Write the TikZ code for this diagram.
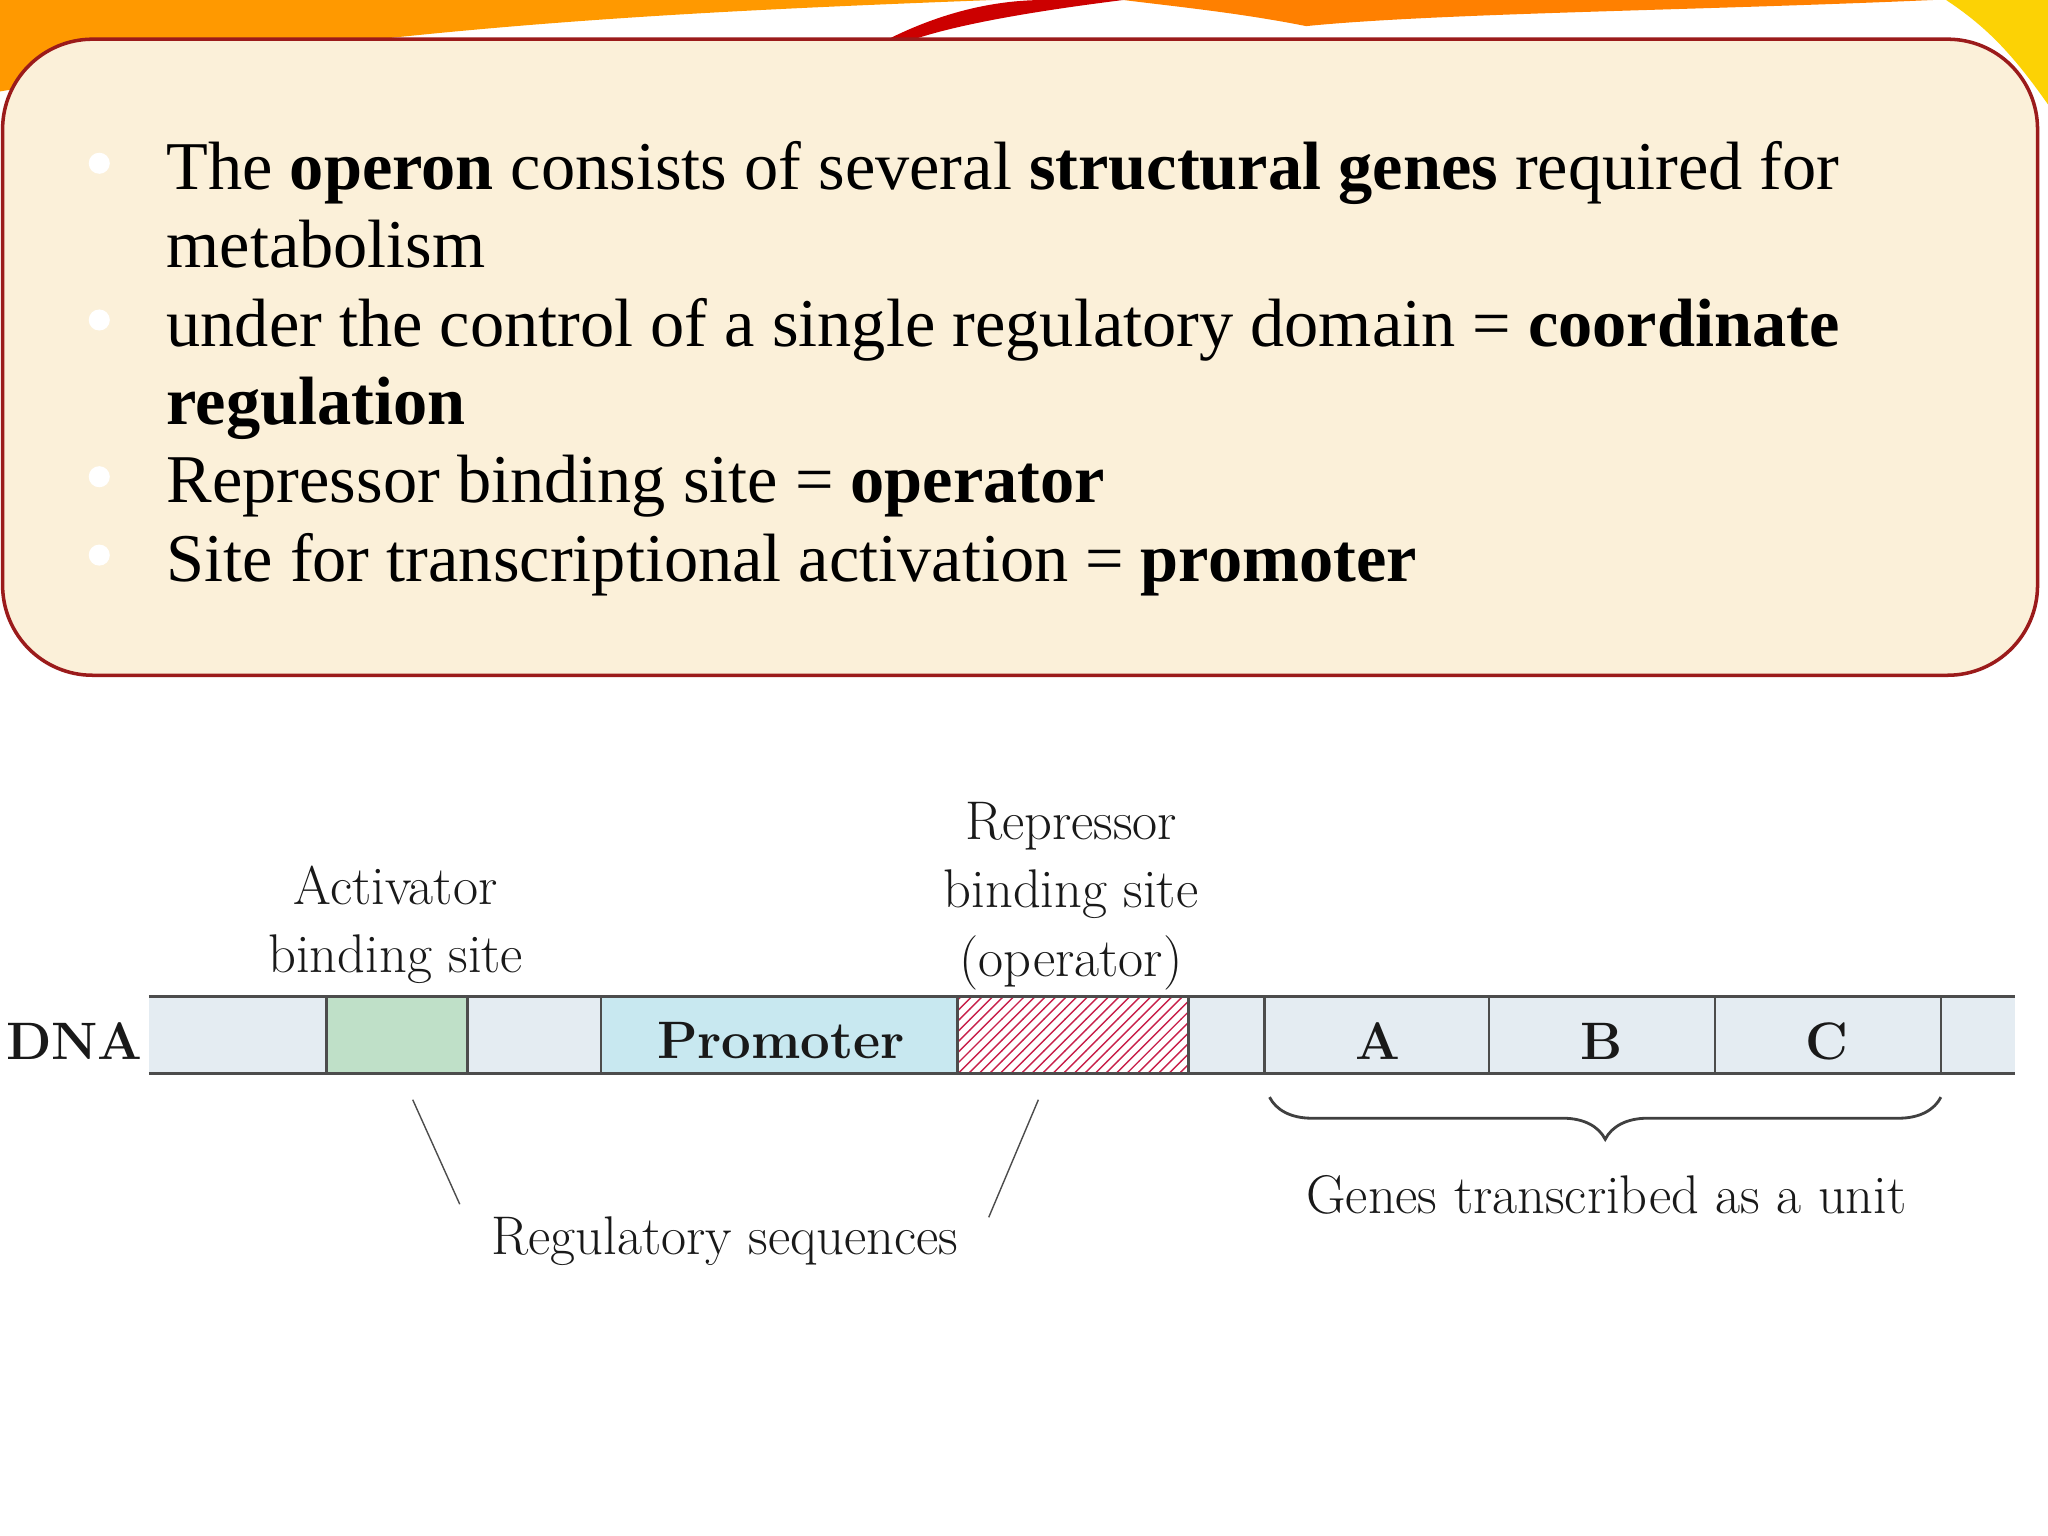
\documentclass[tikz,border=0pt]{standalone}
\usepackage{fontspec}
\setmainfont{Liberation Serif}
\newfontfamily\figfont{Latin Modern Roman}
\usetikzlibrary{patterns,decorations.pathreplacing}
\definecolor{cream}{HTML}{FBF0D9}
\definecolor{boxred}{HTML}{9B1B1B}
\definecolor{dnagray}{HTML}{E4ECF2}
\definecolor{actgreen}{HTML}{BFE0C8}
\definecolor{promcyan}{HTML}{C8E8F0}
\definecolor{hatchred}{HTML}{C8204A}
\begin{document}
\begin{tikzpicture}[x=0.01306cm,y=-0.01306cm,
  bul/.style={anchor=base west,inner sep=0pt,font=\fontsize{19.45}{22}\selectfont},
  dot/.style={circle,fill=white,inner sep=0pt,minimum size=6pt},
  fig/.style={font=\figfont\fontsize{15.5}{17}\selectfont,text=black!90,align=center},
  figb/.style={fig,font=\figfont\fontsize{15}{17}\selectfont\bfseries},
  seg/.style={draw=black!70,line width=0.7pt}]
\useasboundingbox (0,0) rectangle (1568,1176);
\fill[white] (0,0) rectangle (1568,1176);
% orange swoosh
\fill[orange!80!yellow] (0,0) -- (760,0) .. controls (500,10) and (300,20) .. (0,70) -- cycle;
\fill[red!80!black] (680,30) .. controls (720,10) and (760,0) .. (800,0) -- (860,0) .. controls (780,10) and (730,20) .. (700,30) -- cycle;
\fill[orange] (860,0) -- (1480,0) .. controls (1300,8) and (1100,10) .. (1000,20) .. controls (950,10) and (900,5) .. (860,0) -- cycle;
\fill[yellow!70!orange] (1490,0) -- (1568,0) -- (1568,80) .. controls (1540,40) and (1520,20) .. (1490,0) -- cycle;
% text box
\draw[boxred,fill=cream,line width=1pt,rounded corners=0.9cm] (2,30) rectangle (1560,517);
\foreach \yy in {125,245,365,425} \node[dot] at (76,\yy) {};
\node[bul] (l1) at (127,145) {The \textbf{operon} consists of several \textbf{structural genes} required for};
\node[bul] (l2) at (127,205) {metabolism};
\node[bul] (l3) at (127,265) {under the control of a single regulatory domain = \textbf{coordinate}};
\node[bul] (l4) at (127,325) {\textbf{regulation}};
\node[bul] (l5) at (127,385) {Repressor binding site = \textbf{operator}};
\node[bul] (l6) at (127,445) {Site for transcriptional activation = \textbf{promoter}};
% DNA strip
\fill[dnagray] (114,763) rectangle (1543,822);
\fill[actgreen] (250,763) rectangle (358,822);
\fill[promcyan] (460,763) rectangle (733,822);
\fill[white] (733,763) rectangle (910,822);
\fill[pattern=north east lines,pattern color=hatchred] (733,763) rectangle (910,822);
\draw[seg] (114,763) -- (1543,763) (114,822) -- (1543,822);
\foreach \xx in {250,358,460,733,910,968,1140,1313,1486} \draw[seg] (\xx,763) -- (\xx,822);
\node[figb] (dna) at (57,797) {DNA};
\node[figb] (prom) at (598,797) {Promoter};
\node[figb] (ga) at (1055,797) {A};
\node[figb] (gb) at (1226,797) {B};
\node[figb] (gc) at (1399,797) {C};
\node[fig,font=\figfont\fontsize{15.5}{19.5}\selectfont] (act) at (303,708) {Activator\\binding site};
\node[fig,font=\figfont\fontsize{15.5}{19.5}\selectfont] (rep) at (820,686) {Repressor\\binding site\\(operator)};
\draw[decorate,decoration={brace,mirror,amplitude=12pt},black!75,line width=0.8pt] (972,840) -- (1486,840);
\node[fig] (genes) at (1230,915) {Genes transcribed as a unit};
\node[fig] (reg) at (555,950) {Regulatory sequences};
\coordinate (r1) at (316,842);
\coordinate (r2) at (352,922);
\coordinate (r3) at (795,842);
\coordinate (r4) at (757,932);
\draw[black!70] (r1) -- (r2) (r3) -- (r4);
\end{tikzpicture}
\end{document}
